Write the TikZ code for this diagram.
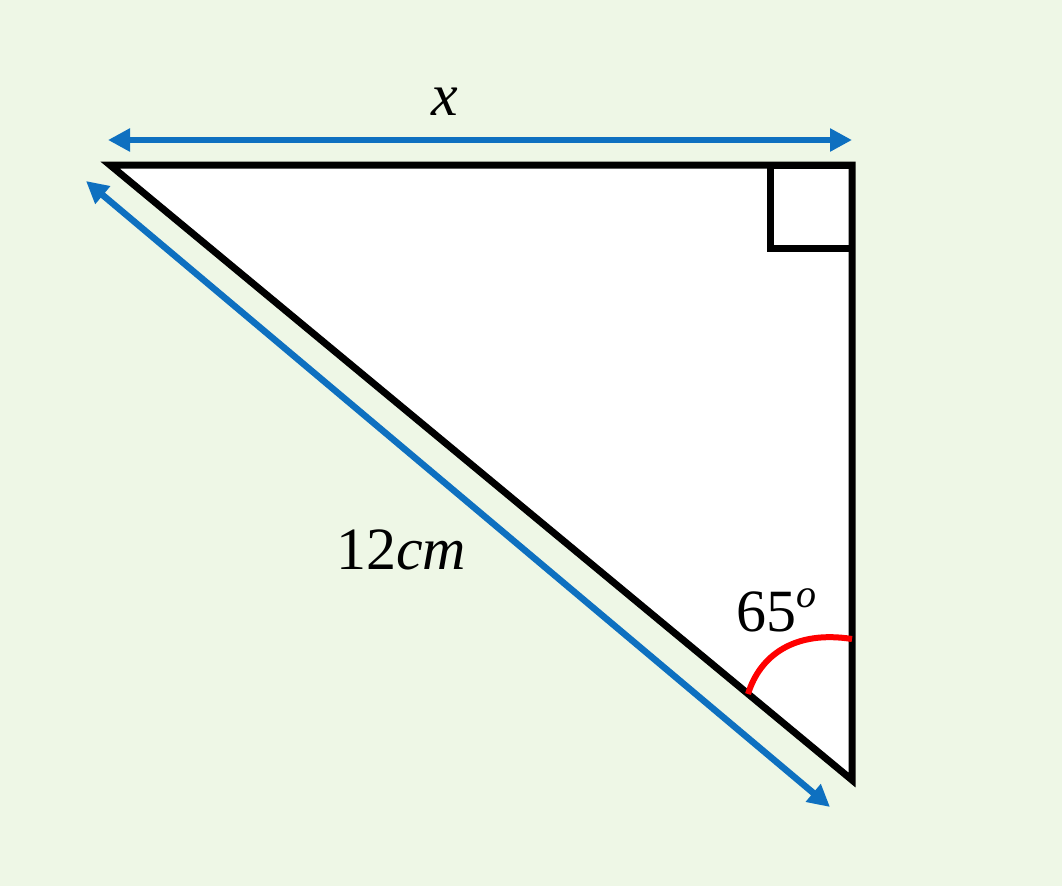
\documentclass[tikz,border=0pt]{standalone}
\usepackage{fontspec}
\setmainfont{Liberation Serif}
\usetikzlibrary{arrows.meta}
\definecolor{bgGreen}{HTML}{EEF7E6}
\definecolor{arrowBlue}{HTML}{0E70C0}
\tikzset{
  side/.style     = {draw=black, line width=7pt, miter limit=20},
  measure/.style  = {arrowBlue, line width=6.5pt,
                     {Triangle[length=22pt,width=22pt]}-{Triangle[length=22pt,width=22pt]}},
  anglearc/.style = {red, line width=6pt},
  lbl/.style      = {font=\fontsize{60}{66}\selectfont, inner sep=0pt}
}

\begin{document}
\begin{tikzpicture}[x=1pt,y=-1pt]
  \fill[bgGreen] (0,0) rectangle (1062,886);
  \useasboundingbox (0,0) rectangle (1062,886);

  \coordinate (A) at (110,165);
  \coordinate (B) at (852,165);
  \coordinate (C) at (852,780);
  \filldraw[side, fill=white] (A) -- (B) -- (C) -- cycle;
  \draw[side] (B) -- ++(-82,0) -- ++(0,83) -- ++(82,0);

  % measurement arrows
  \coordinate (xl) at (108,140);
  \coordinate (xr) at (852,140);
  \draw[measure] (xl) -- (xr);
  \coordinate (hl) at (86,181);
  \coordinate (hr) at (830,807);
  \draw[measure] (hl) -- (hr);

  % angle mark at C
  \coordinate (arcR) at (852,639);
  \coordinate (arcL) at (748,694);
  \draw[anglearc] (arcR) .. controls (795,630) and (760,655) .. (arcL);

  \node[lbl] (xlabel) at (445,102) {\textit{x}};
  \node[lbl] (hyplabel) at (401,550) {12\textit{cm}};
  \node[lbl] (anglelabel) at (776,610) {65\raisebox{0.4em}{\fontsize{40}{44}\selectfont\textit{o}}};
\end{tikzpicture}
\end{document}
